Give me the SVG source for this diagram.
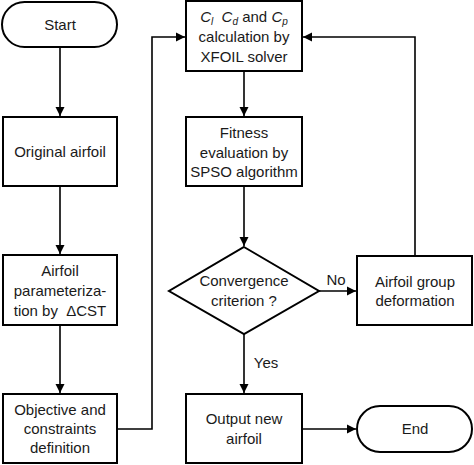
<svg xmlns="http://www.w3.org/2000/svg" width="474" height="465" viewBox="0 0 474 465">
<defs>
<marker id="ah" markerWidth="10" markerHeight="10" refX="9" refY="5" orient="auto" markerUnits="userSpaceOnUse">
<path d="M0,0.5 L9,5 L0,9.5 Z" fill="#000"/>
</marker>
<style>
.b{fill:#fff;stroke:#000;stroke-width:2}
.t{font-family:"Liberation Sans",Arial,sans-serif;font-size:15px;fill:#1a1a1a;text-anchor:middle}
.c{fill:none;stroke:#000;stroke-width:1.6}
.i{font-style:italic}
.s{font-size:10px;font-style:italic}
</style>
</defs>
<rect width="474" height="465" fill="#fff"/>
<g id="connectors">
<path class="c" d="M60,47 V116" marker-end="url(#ah)"/>
<path class="c" d="M60,186 V254" marker-end="url(#ah)"/>
<path class="c" d="M60,325 V393" marker-end="url(#ah)"/>
<path class="c" d="M117,429 H152 V37 H185" marker-end="url(#ah)"/>
<path class="c" d="M244,71 V116" marker-end="url(#ah)"/>
<path class="c" d="M244,186 V246" marker-end="url(#ah)"/>
<path class="c" d="M319,291 H356" marker-end="url(#ah)"/>
<path class="c" d="M415,256 V37 H303" marker-end="url(#ah)"/>
<path class="c" d="M244,334 V393" marker-end="url(#ah)"/>
<path class="c" d="M302,429 H356" marker-end="url(#ah)"/>
<text class="t" x="336" y="285">No</text>
<text class="t" x="266" y="368">Yes</text>
</g>
<g id="start">
<rect class="b" x="2" y="2" width="115" height="45" rx="22.5"/>
<text class="t" x="60" y="30">Start</text>
</g>
<g id="original">
<rect class="b" x="3" y="117" width="114" height="69"/>
<text class="t" x="60" y="157">Original airfoil</text>
</g>
<g id="param">
<rect class="b" x="3" y="255" width="114" height="70"/>
<text class="t" x="60" y="276">Airfoil</text>
<text class="t" x="60" y="296">parameteriza-</text>
<text class="t" x="60" y="316">tion by&#160; ΔCST</text>
</g>
<g id="objective">
<rect class="b" x="3" y="394" width="114" height="69"/>
<text class="t" x="60" y="415">Objective and</text>
<text class="t" x="60" y="434">constraints</text>
<text class="t" x="60" y="453">definition</text>
</g>
<g id="xfoil">
<rect class="b" x="186" y="1" width="116" height="70"/>
<text class="t" x="244" y="22"><tspan class="i">C</tspan><tspan class="s" dy="3">l</tspan><tspan dy="-3">&#160; </tspan><tspan class="i">C</tspan><tspan class="s" dy="3">d</tspan><tspan dy="-3"> and </tspan><tspan class="i">C</tspan><tspan class="s" dy="3">p</tspan></text>
<text class="t" x="244" y="42">calculation by</text>
<text class="t" x="244" y="62">XFOIL solver</text>
</g>
<g id="fitness">
<rect class="b" x="186" y="117" width="116" height="69"/>
<text class="t" x="244" y="138">Fitness</text>
<text class="t" x="244" y="158">evaluation by</text>
<text class="t" x="244" y="177">SPSO algorithm</text>
</g>
<g id="convergence">
<path class="b" d="M244,247 L319,291 L244,334 L169,291 Z"/>
<text class="t" x="244" y="286">Convergence</text>
<text class="t" x="244" y="306">criterion ?</text>
</g>
<g id="deformation">
<rect class="b" x="357" y="256" width="115" height="69"/>
<text class="t" x="415" y="287">Airfoil group</text>
<text class="t" x="415" y="306">deformation</text>
</g>
<g id="output">
<rect class="b" x="186" y="394" width="116" height="69"/>
<text class="t" x="244" y="424">Output new</text>
<text class="t" x="244" y="444">airfoil</text>
</g>
<g id="end">
<rect class="b" x="357" y="406" width="115" height="46" rx="23"/>
<text class="t" x="415" y="434">End</text>
</g>
</svg>
